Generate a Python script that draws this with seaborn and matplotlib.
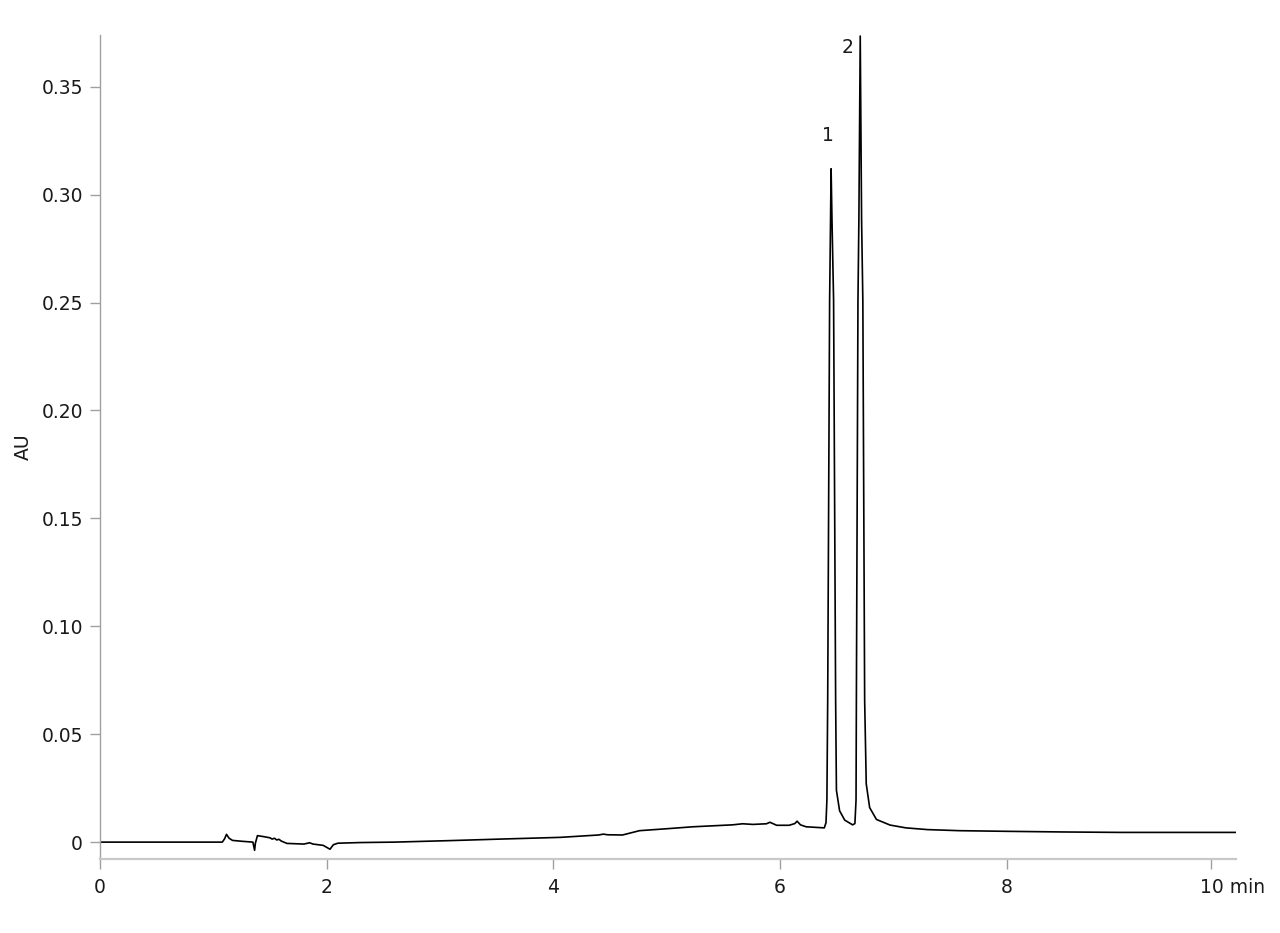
"""
Chromatogram trace (AU vs retention time) with two labelled peaks.
"""

import matplotlib
matplotlib.use("Agg")
import matplotlib.pyplot as plt
import matplotlib.transforms as mtransforms
from matplotlib.ticker import FuncFormatter
import seaborn as sns
import pandas as pd

# Trace
TIME_MIN = [
    0.00, 1.08, 1.10, 1.117, 1.14, 1.17, 1.25, 1.35, 1.365, 1.372,
    1.39, 1.45, 1.50, 1.52, 1.54, 1.56, 1.58, 1.60, 1.65, 1.80,
    1.85, 1.88, 1.97, 2.03, 2.06, 2.10, 2.30, 2.60, 3.09, 3.53,
    4.06, 4.40, 4.44, 4.48, 4.61, 4.70, 4.76, 5.00, 5.23, 5.58,
    5.67, 5.76, 5.88, 5.91, 5.97, 6.08, 6.13, 6.15, 6.18, 6.23,
    6.39, 6.405, 6.413, 6.42, 6.437, 6.445, 6.450, 6.458, 6.472, 6.49,
    6.497, 6.525, 6.57, 6.64, 6.66, 6.67, 6.673, 6.687, 6.695, 6.707,
    6.719, 6.73, 6.746, 6.76, 6.79, 6.85, 6.97, 7.11, 7.30, 7.58,
    8.00, 8.50, 9.00, 10.02,
]
AU_VALUES = [
    0.0, 0.0, 0.0015, 0.0036, 0.0018, 0.0008, 0.0004, 0.0, -0.0038, -0.0005,
    0.0030, 0.0025, 0.0020, 0.0014, 0.0018, 0.0010, 0.0013, 0.0005, -0.0006, -0.0009,
    -0.0003, -0.0009, -0.0015, -0.0033, -0.0012, -0.0005, -0.0002, 0.0, 0.0007, 0.0014,
    0.0022, 0.0033, 0.0037, 0.0034, 0.0033, 0.0045, 0.0053, 0.0062, 0.0071, 0.0080,
    0.0085, 0.0082, 0.0085, 0.0092, 0.0078, 0.0078, 0.0086, 0.0097, 0.0080, 0.0071,
    0.0066, 0.0090, 0.0195, 0.0658, 0.251, 0.288, 0.312, 0.288, 0.251, 0.0658,
    0.024, 0.0145, 0.0102, 0.0080, 0.0086, 0.0195, 0.0658, 0.251, 0.288, 0.3735,
    0.288, 0.251, 0.0658, 0.027, 0.0160, 0.0105, 0.0079, 0.0066, 0.0058, 0.0053,
    0.0050, 0.0047, 0.0045, 0.0045,
]

PEAK_LABELS = ["1", "2"]
PEAK_TIMES = [6.450, 6.707]
PEAK_HEIGHTS = [0.312, 0.3735]

Y_TICKS = [0.0, 0.05, 0.10, 0.15, 0.20, 0.25, 0.30, 0.35]
# the last tick sits a bit short of the even spacing in the source figure
X_TICKS = [0, 2, 4, 6, 8, 9.8]
X_TICK_LABELS = ["0", "2", "4", "6", "8", "10 min"]

sns.set_theme(style="ticks")
plt.rcParams["font.family"] = ["DejaVu Sans"]

df = pd.DataFrame({"time": TIME_MIN, "au": AU_VALUES})

fig = plt.figure(figsize=(12.8, 9.33), dpi=100)
ax = fig.add_axes([0.078, 0.0796, 0.8875, 0.8829])

sns.lineplot(data=df, x="time", y="au", sort=False, estimator=None,
             color="black", linewidth=1.2, ax=ax)

ax.set_xlim(0, 10.02)
ax.set_ylim(-0.0077, 0.374)

ax.set_xticks(X_TICKS)
ax.set_xticklabels(X_TICK_LABELS)
ax.set_yticks(Y_TICKS)
ax.yaxis.set_major_formatter(FuncFormatter(lambda v, _: "0" if v == 0 else f"{v:.2f}"))

ax.set_xlabel("")
ax.set_ylabel("AU", fontsize=13.5, labelpad=6, color="#1a1a1a")

sns.despine(ax=ax)
ax.spines["left"].set_color("#a0a0a0")
ax.spines["left"].set_linewidth(1.0)
ax.spines["bottom"].set_color("#c8c8c8")
ax.spines["bottom"].set_linewidth(1.6)

ax.tick_params(axis="both", direction="out", length=7.2, width=1.0,
               color="#a0a0a0", labelsize=13.5, labelcolor="#1a1a1a", pad=5)
ax.tick_params(axis="x", pad=7)

# "10 min": keep the number on the tick, unit trailing to the right
last = ax.get_xticklabels()[-1]
last.set_horizontalalignment("left")
last.set_transform(last.get_transform() + mtransforms.ScaledTranslation(-0.11, 0, fig.dpi_scale_trans))

# Peak numbers
offsets = [(-2, 24), (-9, -8)]
for lab, t, h, off in zip(PEAK_LABELS, PEAK_TIMES, PEAK_HEIGHTS, offsets):
    ax.annotate(lab, xy=(t, h), xytext=off, textcoords="offset points",
                ha="center", va="center", fontsize=13.5, color="#1a1a1a")

plt.savefig("out.png", dpi=100)
plt.close()
